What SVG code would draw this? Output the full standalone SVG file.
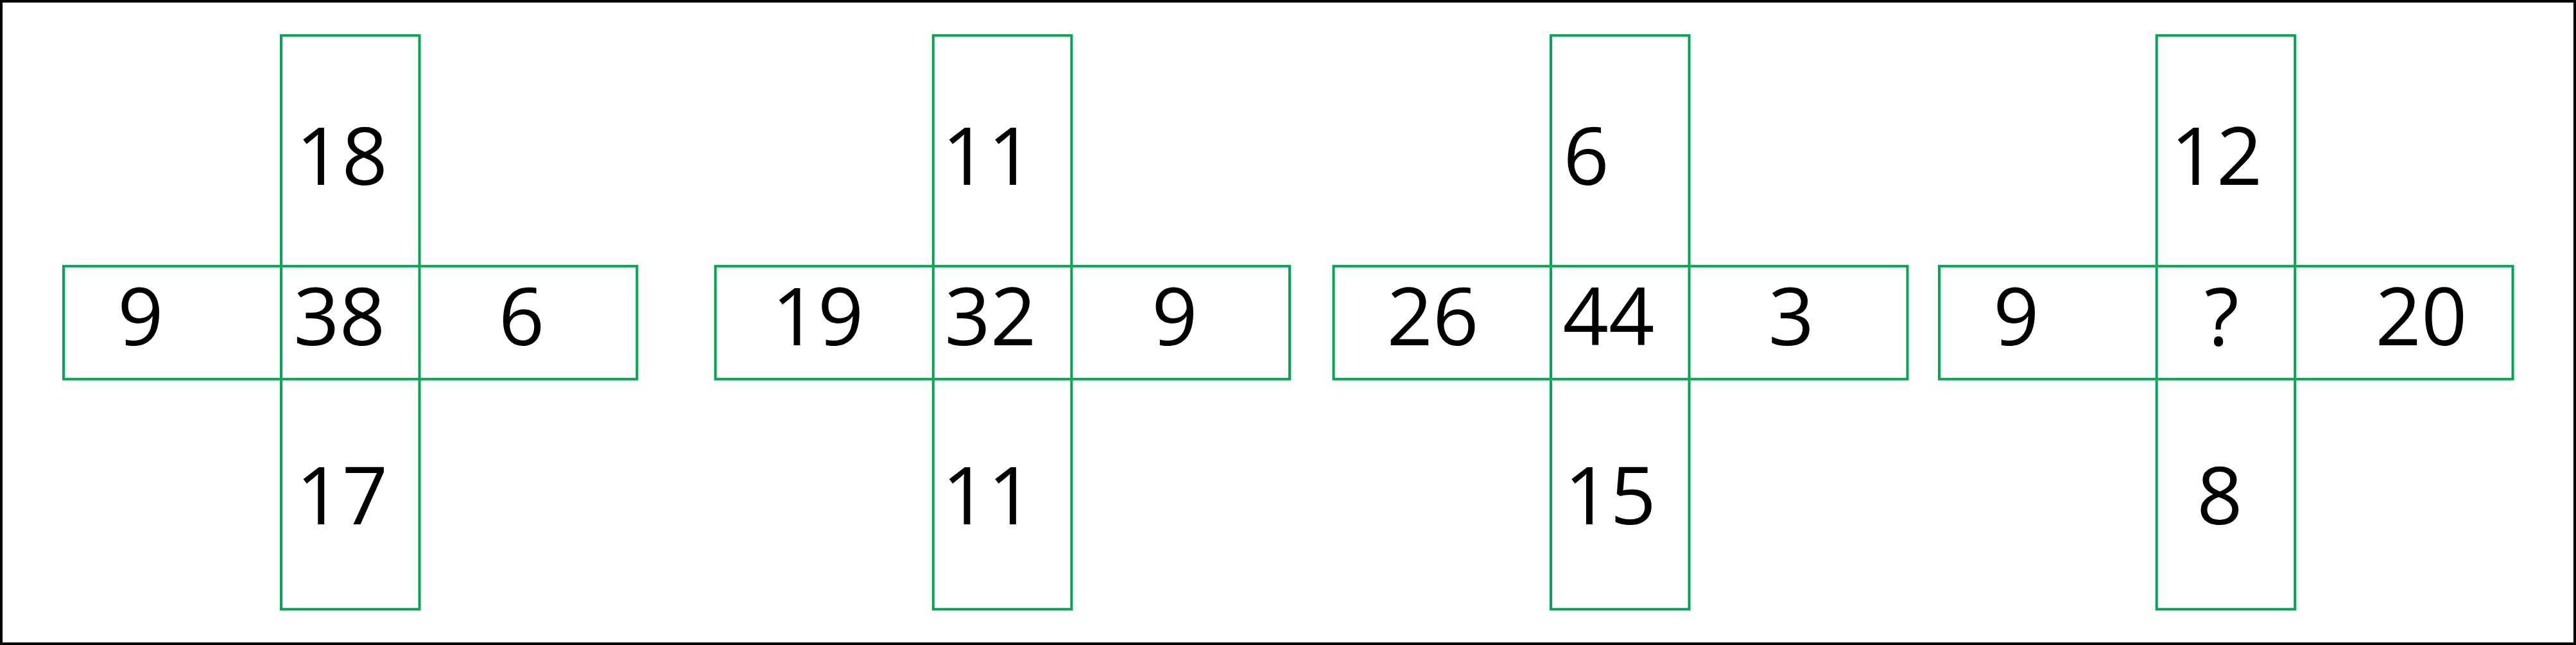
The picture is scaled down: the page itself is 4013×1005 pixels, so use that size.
<svg xmlns="http://www.w3.org/2000/svg" width="4013" height="1005" viewBox="0 0 4013 1005">
<style>
.frame{fill:#ffffff;stroke:#000000;stroke-width:4}
.cell{fill:none;stroke:#00A651;stroke-width:4}
.num{font-family:"Open Sans","Liberation Sans",sans-serif;font-size:125px;fill:#000000;text-anchor:middle}
</style>
<rect class="frame" x="2" y="2" width="4009" height="1001"/>
<g id="cross1">
<rect class="cell" x="99" y="414.7" width="893.3" height="176"/>
<rect class="cell" x="438" y="55.3" width="215.5" height="894"/>
<text class="num" x="532.5" y="287.7">18</text>
<text class="num" x="219" y="537.5">9</text>
<text class="num" x="528.8" y="537.5">38</text>
<text class="num" x="812.5" y="537.5">6</text>
<text class="num" x="532.7" y="816.6">17</text>
</g>
<g id="cross2">
<rect class="cell" x="1114.5" y="414.7" width="894.5" height="176"/>
<rect class="cell" x="1453.8" y="55.3" width="215.5" height="894"/>
<text class="num" x="1539" y="287.7">11</text>
<text class="num" x="1274" y="537.5">19</text>
<text class="num" x="1543" y="537.5">32</text>
<text class="num" x="1830" y="537.5">9</text>
<text class="num" x="1539" y="816.6">11</text>
</g>
<g id="cross3">
<rect class="cell" x="2077.5" y="414.7" width="894" height="176"/>
<rect class="cell" x="2416" y="55.3" width="215.5" height="894"/>
<text class="num" x="2471" y="287.7">6</text>
<text class="num" x="2232" y="537.5">26</text>
<text class="num" x="2506" y="537.5">44</text>
<text class="num" x="2790.5" y="537.5">3</text>
<text class="num" x="2508.6" y="816.6">15</text>
</g>
<g id="cross4">
<rect class="cell" x="3021" y="414.7" width="893.5" height="176"/>
<rect class="cell" x="3359.7" y="55.3" width="215.5" height="894"/>
<text class="num" x="3453" y="287.7">12</text>
<text class="num" x="3141" y="537.5">9</text>
<text class="num" x="3461" y="537.5">?</text>
<text class="num" x="3772" y="537.5">20</text>
<text class="num" x="3458" y="816.6">8</text>
</g>
<g id="connectors"/>
</svg>
